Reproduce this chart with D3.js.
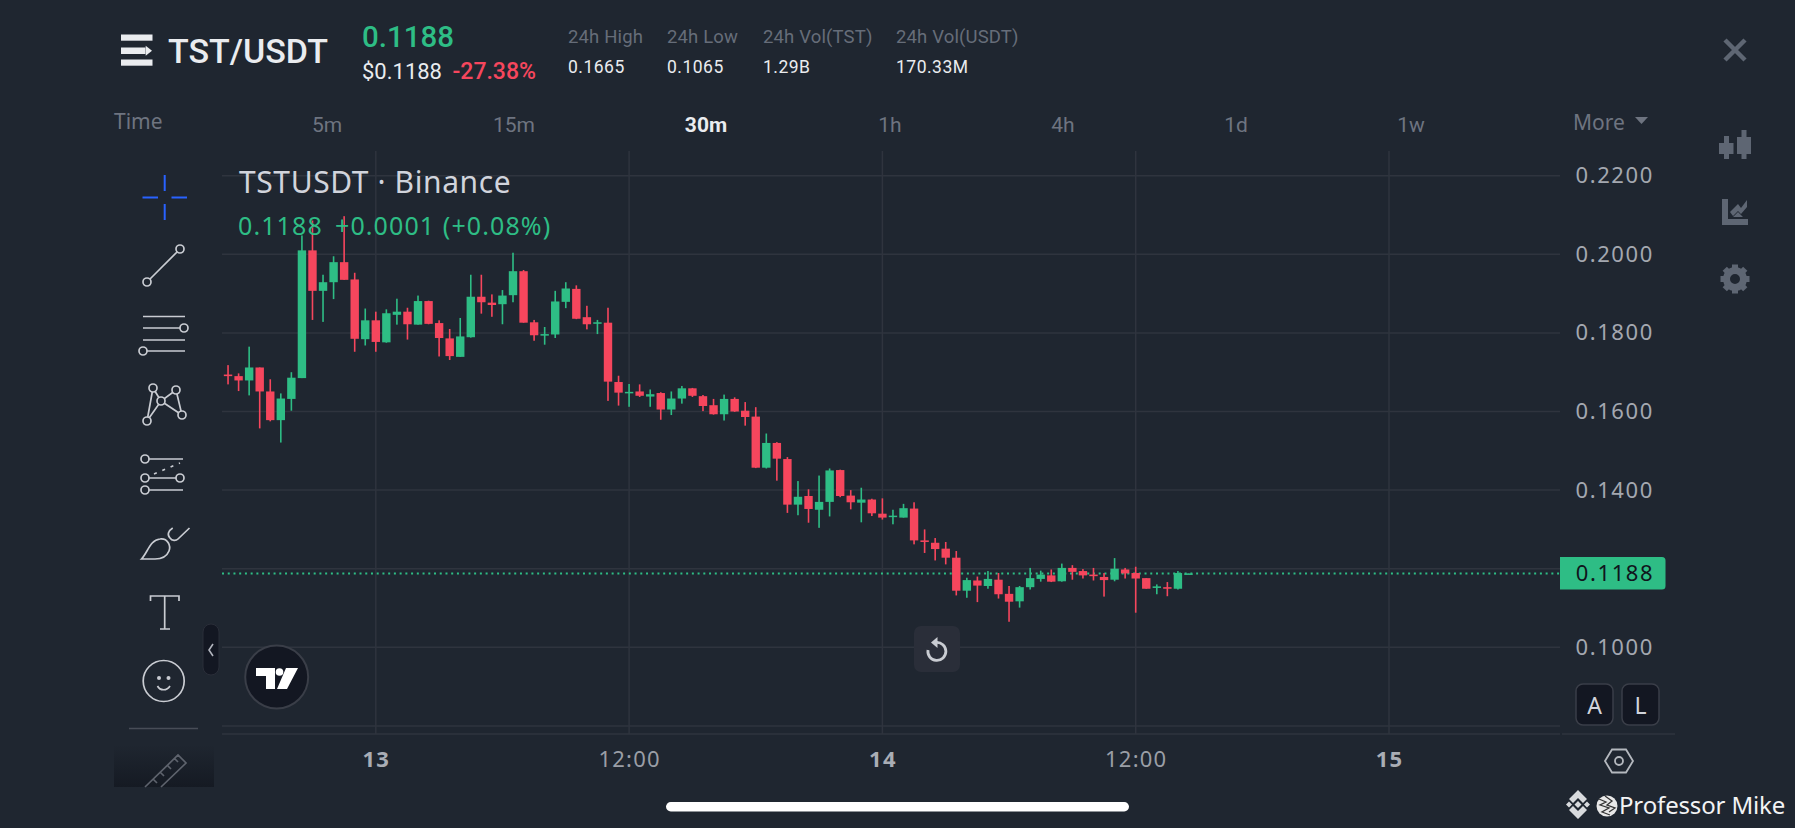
<!DOCTYPE html>
<html>
<head>
<meta charset="utf-8">
<title>TST/USDT</title>
<script src="https://cdn.jsdelivr.net/npm/d3@7"></script>
<style>
  html, body { margin: 0; padding: 0; background: #1f2630; overflow: hidden; }
  svg { display: block; }
  text { font-family: "Noto Sans", sans-serif; }
  .din { font-family: Roboto, sans-serif; }
</style>
</head>
<body>
<svg id="chart" width="1795" height="828"></svg>
<script>
// 30m candles, first one is 12 Feb 17:00
var opens = [.1694,.1690,.1679,.1712,.1651,.1578,.1632,.1685,.2010,.1907,.1929,.1980,.1936,.1784,.1832,.1776,.1846,.1854,.1821,.1881,.1825,.1786,.1739,.1789,.1892,.1877,.1873,.1896,.1957,.1827,
  .1793,.1796,.1879,.1912,.1840,.1824,.1826,.1675,.1647,.1651,.1638,.1647,.1605,.1633,.1659,.1639,.1616,.1593,.1632,.1602,.1587,.1457,.1520,.1479,.1363,.1385,.1350,.1370,.1451,.1386,
  .1368,.1376,.1340,.1332,.1330,.1353,.1272,.1266,.1251,.1228,.1144,.1170,.1156,.1172,.1136,.1117,.1153,.1174,.1183,.1168,.1202,.1194,.1185,.1179,.1172,.1198,.1189,.1176,.1151,.1153,.1149,.1187]
var closes = [.1690,.1679,.1712,.1651,.1578,.1633,.1686,.2010,.1907,.1929,.1980,.1935,.1785,.1832,.1777,.1850,.1854,.1822,.1881,.1823,.1787,.1741,.1791,.1892,.1878,.1871,.1895,.1957,.1826,.1794,
  .1797,.1880,.1913,.1836,.1822,.1827,.1676,.1648,.1650,.1640,.1644,.1605,.1633,.1659,.1640,.1614,.1593,.1632,.1600,.1586,.1457,.1520,.1480,.1363,.1383,.1352,.1370,.1450,.1385,.1369,
  .1376,.1341,.1330,.1335,.1354,.1272,.1268,.1250,.1228,.1144,.1171,.1157,.1174,.1135,.1116,.1153,.1176,.1185,.1167,.1202,.1192,.1183,.1181,.1171,.1200,.1188,.1175,.1149,.1155,.1149,.1189,.1188]
var highs = [.1718,.1697,.1765,.1712,.1682,.1646,.1700,.2048,.2086,.1948,.1995,.2097,.1953,.1862,.1854,.1860,.1887,.1864,.1895,.1882,.1832,.1810,.1838,.1948,.1948,.1898,.1909,.2004,.1960,.1833,
  .1815,.1907,.1929,.1921,.1869,.1833,.1864,.1691,.1670,.1669,.1656,.1649,.1651,.1665,.1660,.1642,.1632,.1643,.1636,.1624,.1611,.1544,.1522,.1484,.1423,.1402,.1437,.1455,.1452,.1400,
  .1406,.1378,.1379,.1350,.1365,.1369,.1300,.1278,.1268,.1245,.1177,.1180,.1194,.1189,.1156,.1156,.1202,.1195,.1198,.1213,.1209,.1199,.1202,.1189,.1227,.1202,.1205,.1176,.1160,.1166,.1194,.1188]
var lows = [.1669,.1652,.1641,.1557,.1575,.1521,.1602,.1685,.1833,.1828,.1886,.1935,.1752,.1768,.1752,.1775,.1821,.1783,.1821,.1822,.1740,.1731,.1739,.1788,.1849,.1841,.1822,.1878,.1826,.1780,
  .1770,.1787,.1863,.1835,.1809,.1797,.1627,.1615,.1612,.1637,.1612,.1579,.1591,.1620,.1637,.1601,.1592,.1577,.1599,.1564,.1456,.1455,.1424,.1342,.1336,.1317,.1304,.1333,.1382,.1351,
  .1318,.1334,.1325,.1313,.1330,.1262,.1240,.1221,.1211,.1132,.1126,.1115,.1149,.1124,.1065,.1101,.1147,.1167,.1166,.1167,.1172,.1175,.1170,.1129,.1168,.1175,.1088,.1149,.1135,.1130,.1147,.1187]

var priceTicks = [0.22, 0.20, 0.18, 0.16, 0.14, 0.12, 0.10, 0.08]
var labelTicks = [0.22, 0.20, 0.18, 0.16, 0.14, 0.10]
var lastPrice = 0.1188
var timeTicks = [new Date(Date.UTC(2025,1,13,0)), new Date(Date.UTC(2025,1,13,12)), new Date(Date.UTC(2025,1,14,0)), new Date(Date.UTC(2025,1,14,12)), new Date(Date.UTC(2025,1,15,0))]
var timeLabels = ['13', '12:00', '14', '12:00', '15']
var boldLabels = ['13', '14', '15']
var firstCandle = Date.UTC(2025,1,12,17)
var halfHour = 30 * 60 * 1000

var tabs = ['5m', '15m', '30m', '1h', '4h', '1d', '1w']
var tabX = [327, 514, 706, 890, 1063, 1236, 1411]
var stats = [['24h High', '0.1665'], ['24h Low', '0.1065'], ['24h Vol(TST)', '1.29B'], ['24h Vol(USDT)', '170.33M']]
var statX = [568, 667, 763, 896]

var green = '#2ebd85', red = '#f6465d', grid = '#2f343e', bg = '#1f2630', dark = '#131722'
var iconGrey = '#c9ccd2', sideGrey = '#5e6673'

var svg = d3.select('#chart')
svg.append('rect').attr('width', 1795).attr('height', 828).attr('fill', bg)

var x = d3.scaleUtc().domain([timeTicks[0], timeTicks[4]]).range([375.8, 1389])
var y = d3.scaleLinear().domain([0.10, 0.22]).range([647.3, 175.7])
var plotLeft = 222, plotRight = 1560, plotTop = 151, plotBottom = 734

// grid
var gridG = svg.append('g')
gridG.selectAll('line.h').data(priceTicks).enter().append('line').attr('class', 'h')
  .attr('x1', plotLeft).attr('x2', plotRight).attr('y1', d => y(d)).attr('y2', d => y(d))
  .attr('stroke', grid).attr('stroke-width', 1.5)
gridG.selectAll('line.v').data(timeTicks).enter().append('line').attr('class', 'v')
  .attr('x1', d => x(d)).attr('x2', d => x(d)).attr('y1', plotTop).attr('y2', plotBottom)
  .attr('stroke', grid).attr('stroke-width', 1.5)
gridG.append('line').attr('x1', plotLeft).attr('x2', plotRight).attr('y1', plotBottom).attr('y2', plotBottom).attr('stroke', grid).attr('stroke-width', 1.5)
gridG.append('line').attr('x1', 1562).attr('x2', 1675).attr('y1', plotBottom).attr('y2', plotBottom).attr('stroke', grid).attr('stroke-width', 1.5)

// last price dotted line
svg.append('line').attr('x1', plotLeft).attr('x2', plotRight).attr('y1', y(lastPrice)).attr('y2', y(lastPrice))
  .attr('stroke', green).attr('stroke-width', 2).attr('stroke-dasharray', '2 3.73')

// candles
var candles = opens.map((o, i) => ({ t: new Date(firstCandle + i * halfHour), o: o, c: closes[i], h: highs[i], l: lows[i] }))
var candleG = svg.append('g').selectAll('g').data(candles).enter().append('g')
  .attr('fill', d => d.c >= d.o ? green : red)
candleG.append('rect')
  .attr('x', d => x(d.t) - 0.8).attr('width', 1.6)
  .attr('y', d => y(d.h)).attr('height', d => y(d.l) - y(d.h))
candleG.append('rect')
  .attr('x', d => x(d.t) - 4.2).attr('width', 8.4)
  .attr('y', d => y(Math.max(d.o, d.c))).attr('height', d => Math.max(1.5, Math.abs(y(d.o) - y(d.c))))

// price axis
var yAxis = d3.axisRight(y).tickValues(labelTicks).tickFormat(d3.format('.4f')).tickSize(0).tickPadding(0)
var yG = svg.append('g').attr('transform', 'translate(1575.5,0)').call(yAxis)
yG.select('.domain').remove()
yG.selectAll('text').attr('fill', '#a4a8b0').attr('font-size', 22).style('letter-spacing', '1.6px')
  .attr('font-family', '"Noto Sans", sans-serif')

// last price tag
svg.append('path').attr('fill', green)
  .attr('d', 'M1560 557H1662a3.5 3.5 0 0 1 3.5 3.5V586a3.5 3.5 0 0 1 -3.5 3.5H1560Z')
svg.append('text').attr('x', 1615).attr('y', y(lastPrice) + 8).attr('text-anchor', 'middle')
  .attr('font-size', 22).style('letter-spacing', '1.6px').attr('fill', '#10151c').text(d3.format('.4f')(lastPrice))

// time axis
var xAxis = d3.axisBottom(x).tickValues(timeTicks).tickFormat((d, i) => timeLabels[i]).tickSize(0).tickPadding(0)
var xG = svg.append('g').attr('transform', 'translate(0,751.5)').call(xAxis)
xG.select('.domain').remove()
xG.selectAll('text').attr('font-size', 22).attr('font-family', '"Noto Sans", sans-serif')
  .attr('font-weight', (d, i) => boldLabels.indexOf(timeLabels[i]) >= 0 ? 700 : 400)
  .attr('fill', (d, i) => boldLabels.indexOf(timeLabels[i]) >= 0 ? '#a9adb5' : '#9a9ea6')
  .style('letter-spacing', '1.2px')

// chart legend
svg.append('text').attr('x', 239).attr('y', 193).attr('font-size', 30).attr('fill', '#d1d4dc').style('letter-spacing', '0.6px').text('TSTUSDT · Binance')
svg.append('text').attr('x', 238).attr('y', 235).attr('font-size', 25).attr('fill', green).style('letter-spacing', '1.1px').text('0.1188')
svg.append('text').attr('x', 335).attr('y', 235).attr('font-size', 25).attr('fill', green).style('letter-spacing', '1.1px').text('+0.0001 (+0.08%)')

// header
var menu = svg.append('g').attr('fill', '#eaecef')
menu.append('rect').attr('x', 121).attr('y', 34.5).attr('width', 31.5).attr('height', 6.2)
menu.append('rect').attr('x', 121).attr('y', 47.5).attr('width', 24.5).attr('height', 6.5)
menu.append('path').attr('d', 'M145.7 45.7L152 50.7L145.7 55.7Z')
menu.append('rect').attr('x', 121).attr('y', 59.5).attr('width', 31.5).attr('height', 6.2)

svg.append('text').attr('class', 'din').attr('x', 168).attr('y', 63.3).attr('font-size', 34).attr('font-weight', 500).attr('fill', '#eaecef').text('TST/USDT')
svg.append('text').attr('class', 'din').attr('x', 362).attr('y', 46.7).attr('font-size', 29.5).attr('font-weight', 500).attr('fill', green).text('0.1188')
svg.append('text').attr('class', 'din').attr('x', 362).attr('y', 79.3).attr('font-size', 22).attr('fill', '#eaecef').text('$0.1188')
svg.append('text').attr('class', 'din').attr('x', 452.5).attr('y', 79.3).attr('font-size', 23).attr('font-weight', 500).attr('fill', red).text('-27.38%')

stats.forEach(function (s, i) {
  svg.append('text').attr('class', 'din').attr('x', statX[i]).attr('y', 43).attr('font-size', 18.5).attr('fill', '#666d79').style('letter-spacing', '0.15px').text(s[0])
  svg.append('text').attr('class', 'din').attr('x', statX[i]).attr('y', 73).attr('font-size', 17.5).attr('fill', '#eaecef').style('letter-spacing', '0.5px').text(s[1])
})

// timeframe tabs
svg.append('text').attr('x', 114).attr('y', 129).attr('font-size', 21).attr('fill', '#6e7480').text('Time')
tabs.forEach(function (t, i) {
  svg.append('text').attr('class', 'din').attr('x', tabX[i]).attr('y', 132).attr('text-anchor', 'middle')
    .attr('font-size', 21).attr('font-weight', t == '30m' ? 700 : 400).attr('fill', t == '30m' ? '#eaecef' : '#6e7480').text(t)
})
svg.append('text').attr('x', 1573).attr('y', 130).attr('font-size', 21).attr('fill', '#6e7480').text('More')
svg.append('path').attr('d', 'M1635 117H1648L1641.5 124Z').attr('fill', '#6e7480')

// right side icons
var side = svg.append('g')
side.append('path').attr('d', 'M1725 40L1745 60M1745 40L1725 60').attr('stroke', sideGrey).attr('stroke-width', 4.5).attr('fill', 'none')
side.append('path').attr('fill', sideGrey).attr('d', 'M1719 143H1724V136H1729V143H1733.5V154H1729V159H1724V154H1719ZM1737 137H1741.5V130H1746.5V137H1751V154H1746.5V159H1741.5V154H1737Z')
side.append('path').attr('fill', sideGrey).attr('d', 'M1722 199H1728V219H1748V225H1722ZM1730 212L1738 204L1741 208L1747 200V207L1741 214L1738 211L1733 216ZM1733 217L1738 212L1743 217Z')
side.append('circle').attr('cx', 1735).attr('cy', 279).attr('r', 8.5).attr('fill', 'none').attr('stroke', sideGrey).attr('stroke-width', 7)
side.selectAll('rect').data(d3.range(8)).enter().append('rect')
  .attr('x', 1732).attr('y', 264.5).attr('width', 6).attr('height', 5).attr('fill', sideGrey)
  .attr('transform', d => 'rotate(' + d * 45 + ' 1735 279)')

// drawing toolbar
var crossG = svg.append('g').attr('stroke', '#2962ff').attr('stroke-width', 2).attr('fill', 'none')
crossG.append('path').attr('d', 'M164.7 175V191M164.7 204V220M142.5 197.5H158M171.5 197.5H187')

var tool = svg.append('g').attr('stroke', iconGrey).attr('stroke-width', 1.7).attr('fill', 'none')
function knob(g, cx, cy) { g.append('circle').attr('cx', cx).attr('cy', cy).attr('r', 4).attr('fill', bg) }
tool.append('path').attr('d', 'M147 282L180 249')
knob(tool, 147, 282); knob(tool, 180, 249)
tool.append('path').attr('d', 'M143 316.5H185M143 328H184M143 340H185M143 351H185')
knob(tool, 184, 328); knob(tool, 143, 351)
tool.append('path').attr('d', 'M153 388L147 421L161 401L176 390M161 401L182 415L176 390M153 388L161 401')
knob(tool, 153, 388); knob(tool, 176, 390); knob(tool, 161, 401); knob(tool, 182, 415); knob(tool, 147, 421)
tool.append('path').attr('d', 'M145 459H183M145 478H180M145 490H183')
tool.append('path').attr('d', 'M154 474L180 463').attr('stroke-dasharray', '3 6')
knob(tool, 145, 459); knob(tool, 145, 478); knob(tool, 180, 478); knob(tool, 145, 490)
// brush
tool.append('path').attr('d', 'M141.5 559C148 552 150 540 160 539C168 538 171 546 169 551C167 556 162 559 155 559Z')
tool.append('path').attr('d', 'M172.7 528C168 531 167 535 170 538C172 541 176 541 178 539L189.5 528')
// text tool
tool.append('path').attr('d', 'M150.5 601V596H179V601M164.7 596V629M160 629H170')
// smile
tool.append('circle').attr('cx', 163.7).attr('cy', 681).attr('r', 20.5)
tool.append('path').attr('d', 'M157.5 686C160 691 167 691 170 686')
svg.append('circle').attr('cx', 159).attr('cy', 678).attr('r', 2).attr('fill', iconGrey)
svg.append('circle').attr('cx', 168.5).attr('cy', 678).attr('r', 2).attr('fill', iconGrey)
svg.append('line').attr('x1', 129).attr('x2', 198).attr('y1', 728.5).attr('y2', 728.5).attr('stroke', '#484d57').attr('stroke-width', 1.5)

// ruler box, fades up into the background
var defs = svg.append('defs')
var fade = defs.append('linearGradient').attr('id', 'fade').attr('x1', 0).attr('x2', 0).attr('y1', 0).attr('y2', 1)
fade.append('stop').attr('offset', '0').attr('stop-color', bg)
fade.append('stop').attr('offset', '1').attr('stop-color', '#151a23')
svg.append('rect').attr('x', 114).attr('y', 745).attr('width', 100).attr('height', 42).attr('fill', 'url(#fade)')
svg.append('path').attr('d', 'M145 787L178 755L186 763L161 787M153 779L157 783M160 772L164 776M167 765L171 769M174 758L178 762')
  .attr('stroke', '#5e636d').attr('stroke-width', 1.7).attr('fill', 'none')

// collapse pill
svg.append('rect').attr('x', 203).attr('y', 624).attr('width', 16).attr('height', 51).attr('rx', 8).attr('fill', dark).attr('stroke', '#2a2e39')
svg.append('path').attr('d', 'M213 644L209 650L213 656').attr('stroke', '#b2b5be').attr('stroke-width', 1.6).attr('fill', 'none')

// tradingview badge
svg.append('circle').attr('cx', 276.7).attr('cy', 677).attr('r', 31.5).attr('fill', dark).attr('stroke', '#3a3e48').attr('stroke-width', 2)
svg.append('path').attr('fill', '#fff').attr('d', 'M256 668H275V689H266V676H256ZM286 668H298L287 689H277Z')
svg.append('circle').attr('cx', 279.5).attr('cy', 672).attr('r', 3.8).attr('fill', '#fff')

// reset button
svg.append('rect').attr('x', 914).attr('y', 626).attr('width', 46).attr('height', 46).attr('rx', 7).attr('fill', '#2a2e39')
svg.append('path').attr('d', 'M936 642.5A9 9 0 1 1 928 650').attr('stroke', '#c9ccd2').attr('stroke-width', 2.8).attr('fill', 'none')
svg.append('path').attr('d', 'M937.5 637V648L931 642.5Z').attr('fill', '#c9ccd2')

// auto / log buttons
;[['A', 1576], ['L', 1622]].forEach(function (b) {
  svg.append('rect').attr('x', b[1]).attr('y', 684).attr('width', 37).attr('height', 41).attr('rx', 7).attr('fill', dark).attr('stroke', '#3a3e48').attr('stroke-width', 1.5)
  svg.append('text').attr('x', b[1] + 18.5).attr('y', 714).attr('text-anchor', 'middle').attr('font-size', 23).attr('fill', '#d1d4dc').text(b[0])
})

// hexagon
svg.append('path').attr('d', 'M1605 761L1612 749.5H1626L1633 761L1626 772.5H1612Z').attr('stroke', '#b4b8be').attr('stroke-width', 1.8).attr('fill', 'none')
svg.append('circle').attr('cx', 1619).attr('cy', 761).attr('r', 4).attr('stroke', '#b4b8be').attr('stroke-width', 1.8).attr('fill', 'none')

// watermark
var mark = svg.append('g').attr('fill', '#d8dadd')
mark.append('path').attr('d', 'M1578 790L1587 799L1583 803L1578 798L1573 803L1569 799ZM1578 819L1569 810L1573 806L1578 811L1583 806L1587 810ZM1578 801L1581.5 804.5L1578 808L1574.5 804.5ZM1566 804.5L1569 801.5L1572 804.5L1569 807.5ZM1584 804.5L1587 801.5L1590 804.5L1587 807.5Z')
svg.append('circle').attr('cx', 1607).attr('cy', 806).attr('r', 10.5).attr('fill', '#e8e8e8')
svg.append('path').attr('d', 'M1599 799L1606 802L1600 805L1609 808L1602 812L1610 815M1605 796L1612 801L1607 805L1615 808L1609 812').attr('stroke', '#333').attr('stroke-width', 1.3).attr('fill', 'none')
svg.append('text').attr('x', 1619).attr('y', 814).attr('font-size', 24).attr('fill', '#f2f3f4').style('letter-spacing', '-0.15px').text('Professor Mike')

// phone home bar
svg.append('rect').attr('x', 666).attr('y', 802).attr('width', 463).attr('height', 9.5).attr('rx', 4.75).attr('fill', '#fff')
</script>
</body>
</html>
